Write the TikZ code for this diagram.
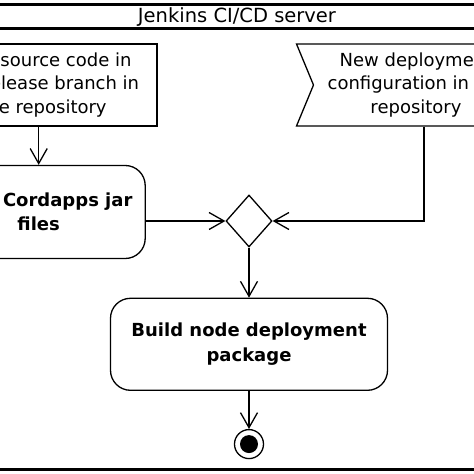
\documentclass[tikz,border=0pt]{standalone}
\usepackage{fontspec}
\setmainfont{DejaVu Sans}
\usepackage{tikz}
\usetikzlibrary{arrows.meta,shapes,positioning}
\tikzstyle{sendsig} = [rectangle, draw, line width=1.3pt, minimum width=227pt, minimum height=82pt, align=center, font=\fontsize{18}{23.5}\selectfont]
\tikzstyle{recvsig} = [signal, signal from=west, signal to=nowhere, signal pointer angle=135, draw, line width=1.3pt, minimum width=222pt, minimum height=82pt, align=center, font=\fontsize{18}{23.5}\selectfont]
\tikzstyle{action} = [rectangle, rounded corners=20pt, draw, line width=1.3pt, align=center, font=\bfseries\fontsize{18}{24.5}\selectfont]
\tikzstyle{merge} = [diamond, draw, line width=1.3pt, minimum width=46pt, minimum height=52pt, inner sep=0pt]
\tikzstyle{final} = [circle, draw, line width=1.3pt, minimum size=29pt, inner sep=0pt]
\tikzstyle{arrow} = [line width=1.3pt, -{Straight Barb[length=15pt,width=17pt]}]
\tikzstyle{lane} = [line width=3pt]

\begin{document}
\begin{tikzpicture}[x=1pt,y=1pt]
\clip (0,0) rectangle (474,474);
% swimlane
\draw[lane] (0,469.5) -- (474,469.5);
\draw[lane] (0,445.5) -- (474,445.5);
\draw[lane] (0,4) -- (474,4);
\node[font=\fontsize{19.5}{22}\selectfont] (title) at (237,456.5) {Jenkins CI/CD server};

\node[sendsig] (src) at (43.5,389) {New source code in\\the release branch in\\the repository};
\node[recvsig] (conf) at (416,389) {New deployment\\configuration in the\\repository};
\node[action, minimum width=213pt, minimum height=93pt] (jar) at (38.7,262) {Build Cordapps jar\\files};
\node[merge] (join) at (249,253) {};
\node[action, minimum width=277pt, minimum height=92pt, below=50pt of join] (build) {Build node deployment\\package};
\node[final, below=38pt of build] (stop) {};
\fill (stop) circle (9pt);

\draw[arrow] (src.south -| jar.north) -- (jar.north);
\draw[arrow] (jar.east |- join.west) -- (join.west);
\draw[arrow] ([xshift=8pt]conf.south) |- (join.east);
\draw[arrow] (join.south) -- (build.north);
\draw[arrow] (build.south) -- (stop.north);
\end{tikzpicture}
\end{document}
